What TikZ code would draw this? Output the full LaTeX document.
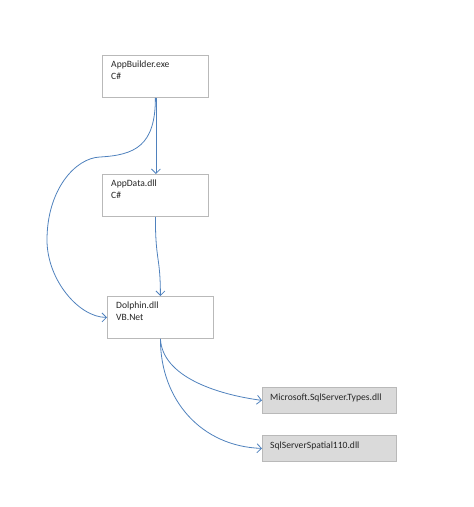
\documentclass[tikz,border=0pt]{standalone}
\usepackage{fontspec}
\setmainfont{Carlito}
\usetikzlibrary{arrows.meta}
\definecolor{arrowblue}{RGB}{79,129,189}
\definecolor{boxline}{RGB}{185,185,185}
\definecolor{boxfill}{RGB}{218,218,218}
\begin{document}
\begin{tikzpicture}[x=1pt,y=-1pt,
  box/.style={draw=boxline,line width=0.8pt,anchor=north west,inner sep=0pt,fill=white},
  graybox/.style={box,fill=boxfill},
  lbl/.style={anchor=north west,inner sep=0pt,align=left,font=\fontsize{9.6}{11.5}\selectfont,text=black!85},
  conn/.style={draw=arrowblue,line width=0.8pt,-{Straight Barb[length=4.5pt,width=9pt]}}]
\useasboundingbox (0,0) rectangle (474,507);
% boxes
\node[box,minimum width=106pt,minimum height=42pt] (ab) at (102,55) {};
\node[box,minimum width=106pt,minimum height=42pt] (ad) at (102,174) {};
\node[box,minimum width=106pt,minimum height=42pt] (dl) at (107,296) {};
\node[graybox,minimum width=134pt,minimum height=26pt] (ms) at (262,387) {};
\node[graybox,minimum width=134pt,minimum height=26pt] (sp) at (262,435) {};
% labels
\node[lbl] (abt) at ([shift={(9,6)}]ab.north west) {AppBuilder.exe\\C\#};
\node[lbl] (adt) at ([shift={(9,6)}]ad.north west) {AppData.dll\\C\#};
\node[lbl] (dlt) at ([shift={(9,6)}]dl.north west) {Dolphin.dll\\VB.Net};
\node[lbl] (mst) at ([shift={(8,7)}]ms.north west) {Microsoft.SqlServer.Types.dll};
\node[lbl] (spt) at ([shift={(8,7)}]sp.north west) {SqlServerSpatial110.dll};
% connectors
\draw[conn] ([xshift=0.5pt]ab.south) -- ([xshift=0.5pt]ad.north);
\draw[conn] (ad.south) .. controls +(0,45) and +(0,-40) .. (dl.north);
\coordinate (c1) at (100,157);
\coordinate (c2) at (47,240);
\draw[conn] (ab.south) .. controls +(0,48) and +(35,-2) .. (c1)
   .. controls +(-25,1) and +(0,-50) .. (c2)
   .. controls +(0,40) and +(-28,0) .. (dl.west);
\draw[conn] (dl.south) .. controls +(2,38) and +(-45,-6) .. (ms.west);
\draw[conn] (dl.south) .. controls +(0,62) and +(-60,-2) .. (sp.west);
\end{tikzpicture}
\end{document}
